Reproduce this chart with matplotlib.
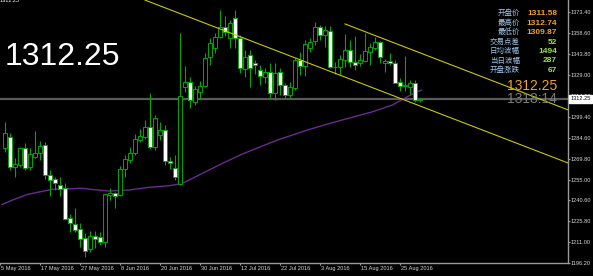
import matplotlib
matplotlib.use("Agg")
import matplotlib.pyplot as plt
import matplotlib.transforms as mtrans

# daily XAUUSD bars, 6 May 2016 .. 31 Aug 2016 (bar index 0..83)
opens = [1277.2, 1285.0, 1263.8, 1265.4, 1277.2, 1263.8, 1271.3, 1273.7, 1279.6, 1258.3,
         1255.3, 1251.2, 1248.9, 1227.7, 1223.6, 1219.9, 1213.5, 1205.7, 1215.3, 1214.2,
         1210.7, 1244.2, 1245.8, 1244.2, 1262.3, 1268.9, 1273.7, 1283.1, 1285.0, 1292.1,
         1278.4, 1286.6, 1290.2, 1268.4, 1263.0, 1251.9, 1320.9, 1324.4, 1310.2, 1317.3,
         1321.3, 1341.7, 1348.0, 1355.8, 1362.9, 1355.1, 1369.3, 1355.1, 1333.2, 1343.3,
         1337.9, 1332.7, 1327.9, 1331.5, 1316.2, 1331.5, 1322.0, 1315.0, 1319.7, 1339.8,
         1335.5, 1348.0, 1353.4, 1363.3, 1357.5, 1360.5, 1334.6, 1335.0, 1339.8, 1346.8,
         1338.6, 1337.9, 1339.3, 1345.6, 1348.5, 1352.7, 1337.4, 1339.3, 1337.9, 1324.0,
         1321.3, 1320.4, 1323.3, 1311.58]
highs = [1295.6, 1288.3, 1270.2, 1278.4, 1281.2, 1277.2, 1289.5, 1282.4, 1281.9, 1261.9,
         1257.1, 1256.7, 1252.4, 1230.7, 1234.7, 1224.1, 1217.0, 1218.9, 1218.9, 1218.2,
         1244.9, 1248.9, 1246.5, 1264.7, 1272.5, 1278.4, 1287.3, 1290.7, 1297.2, 1316.2,
         1300.8, 1296.1, 1293.7, 1270.9, 1272.5, 1358.7, 1335.5, 1327.9, 1321.3, 1325.1,
         1344.9, 1355.1, 1358.7, 1375.2, 1370.9, 1368.1, 1375.2, 1357.5, 1346.8, 1346.8,
         1339.8, 1336.2, 1333.9, 1337.9, 1337.9, 1333.9, 1323.7, 1324.4, 1341.0, 1345.6,
         1353.9, 1355.1, 1366.9, 1364.5, 1363.8, 1363.8, 1338.6, 1343.3, 1358.2, 1353.9,
         1356.8, 1344.0, 1358.7, 1352.0, 1356.3, 1353.4, 1340.3, 1344.9, 1339.8, 1326.8,
         1342.6, 1325.6, 1325.6, 1312.74]
lows = [1274.8, 1261.9, 1256.7, 1263.8, 1261.9, 1261.9, 1270.2, 1268.9, 1255.3, 1243.7,
        1247.7, 1243.4, 1226.5, 1218.1, 1218.1, 1207.5, 1200.0, 1203.8, 1206.4, 1208.7,
        1207.1, 1240.6, 1234.7, 1243.4, 1257.1, 1267.0, 1272.5, 1281.9, 1283.6, 1276.5,
        1276.0, 1283.1, 1265.4, 1262.4, 1254.8, 1251.2, 1317.3, 1305.5, 1307.9, 1311.9,
        1320.4, 1336.2, 1344.5, 1355.1, 1356.8, 1348.0, 1348.0, 1330.3, 1327.9, 1320.4,
        1329.8, 1322.1, 1323.3, 1312.6, 1311.4, 1315.0, 1312.6, 1312.6, 1318.5, 1329.1,
        1328.4, 1345.6, 1350.4, 1353.9, 1349.2, 1333.9, 1329.8, 1329.1, 1335.0, 1335.0,
        1332.7, 1335.5, 1338.6, 1336.2, 1346.8, 1337.4, 1331.5, 1336.2, 1323.3, 1318.0,
        1318.0, 1315.7, 1310.2, 1309.87]
closes = [1287.8, 1263.8, 1266.1, 1277.2, 1263.0, 1273.2, 1274.1, 1278.8, 1258.3, 1254.8,
          1252.4, 1248.4, 1226.9, 1224.5, 1219.4, 1212.8, 1204.7, 1215.1, 1213.0, 1210.7,
          1244.6, 1245.8, 1243.4, 1262.3, 1269.6, 1273.7, 1283.6, 1285.9, 1292.1, 1277.9,
          1298.5, 1290.2, 1268.4, 1266.6, 1256.7, 1314.2, 1324.4, 1311.4, 1319.0, 1321.3,
          1341.0, 1351.6, 1356.3, 1363.3, 1359.8, 1365.8, 1355.1, 1333.9, 1342.1, 1333.9,
          1336.2, 1328.4, 1331.5, 1316.2, 1330.8, 1322.0, 1315.0, 1320.4, 1339.8, 1335.5,
          1350.9, 1352.7, 1363.3, 1357.5, 1361.0, 1335.0, 1335.0, 1340.3, 1346.8, 1338.6,
          1336.2, 1339.8, 1346.1, 1348.8, 1352.3, 1341.7, 1339.3, 1337.4, 1323.7, 1321.6,
          1321.8, 1323.3, 1311.4, 1312.25]

# moving average (purple), read at a few bars
ma_idx = [-0.6, 1.5, 4.5, 9.5, 15.5, 17.5, 20.8, 24.8, 28.8, 32.8, 34.8, 35.5, 39.5, 43.5,
          47.5, 51.5, 54.5, 60.5, 64.5, 68.5, 73.5, 77.5, 79.5, 81.5, 83.3]
ma_val = [1237.4, 1240.6, 1244.6, 1248.2, 1248.9, 1248.0, 1247.0, 1247.7, 1249.6, 1250.7,
          1251.9, 1252.4, 1259.5, 1266.6, 1273.2, 1278.9, 1283.1, 1290.2, 1294.4, 1298.3,
          1303.1, 1307.9, 1311.9, 1315.7, 1318.5]

# trend lines (bar index, price)
lower_line = ([28, 113], [1382.2, 1266.3])
upper_line = ([68, 113], [1365.3, 1303.9])

tick_idx = [-1, 7, 15, 23, 31, 39, 47, 55, 63, 71, 79]
tick_labels = ["5 May 2016", "17 May 2016", "27 May 2016", "8 Jun 2016", "20 Jun 2016",
               "30 Jun 2016", "12 Jul 2016", "22 Jul 2016", "3 Aug 2016", "15 Aug 2016",
               "25 Aug 2016"]
price_ticks = [1373.40, 1358.60, 1343.80, 1329.00, 1314.20, 1299.40, 1284.60, 1269.80,
               1255.00, 1240.60, 1225.80, 1211.00, 1196.20]

last_price = 1312.25
timer_text = "1318:14"
info_labels = ["开盘价", "最高价", "最低价", "交易点差", "日均波幅", "当日波幅", "开盘涨跌"]
info_values = ["1311.58", "1312.74", "1309.87", "52", "1494", "287", "67"]

GREEN = "#00a800"
AXIS = "#9a9a9a"

plt.rcParams['font.family'] = ['Liberation Sans', 'DejaVu Sans']

fig = plt.figure(figsize=(5.93, 2.76), dpi=100, facecolor="black")
ax = fig.add_axes([0, 13 / 276, 568 / 593, 263 / 276])
ax.set_facecolor("black")

idx = list(range(len(opens)))
ax.vlines(idx, lows, highs, color=GREEN, lw=0.8, zorder=3)
bull = [c >= o for o, c in zip(opens, closes)]
ax.bar(idx, [c - o for o, c in zip(opens, closes)], bottom=opens, width=0.62,
       color=["black" if b else "white" for b in bull], edgecolor=GREEN,
       linewidth=0.7, zorder=4)

ax.plot(ma_idx, ma_val, color="#6a2a90", lw=1.0, zorder=2)
ax.plot(*lower_line, color="#c8c800", lw=0.8, zorder=5)
ax.plot(*upper_line, color="#c8c800", lw=0.8, zorder=5)
ax.axhline(last_price, color="#5a5a5a", lw=1.6, zorder=1)

ax.set_xlim(-0.54, 112.6)
ax.set_ylim(1196.0, 1382.25)

for s in ["top", "left"]:
    ax.spines[s].set_visible(False)
for s in ["right", "bottom"]:
    ax.spines[s].set_color(AXIS)
    ax.spines[s].set_linewidth(1.0)

ax.yaxis.tick_right()
ax.set_yticks(price_ticks)
ax.set_yticklabels(["%.2f" % p for p in price_ticks])
ax.set_xticks(tick_idx)
ax.set_xticklabels(tick_labels, ha="left")
ax.tick_params(axis="both", colors=AXIS, labelcolor="#d8d8d8", labelsize=4.1,
               length=1.6, width=0.8, pad=0.6)
for lab in ax.get_xticklabels():
    lab.set_transform(lab.get_transform() + mtrans.ScaledTranslation(1 / 100, 0, fig.dpi_scale_trans))

# current price box on the axis
ax.text(1.004, last_price, "%.2f" % last_price, transform=ax.get_yaxis_transform(),
        ha="left", va="center", fontsize=4.1, color="black", zorder=10, clip_on=False,
        bbox=dict(boxstyle="square,pad=0.25", fc="white", ec="white"))

# big price at left and tiny header
fig.text(5 / 593, 1 - 65 / 276, "%.2f" % last_price, fontsize=23, color="white",
         ha="left", va="baseline")
fig.text(0, 1 - 1 / 276, "%.2f" % last_price, fontsize=4, color="white", ha="left", va="center")

# info panel top right
cjk = ['Noto Sans CJK SC', 'DejaVu Sans']
for k, (lab, val) in enumerate(zip(info_labels, info_values)):
    yb = 1 - (15 + 9.5 * k) / 276
    fig.text(520 / 593, yb, lab, family=cjk, fontsize=5.4, color="#9ec3e6",
             ha="right", va="baseline")
    fig.text(557 / 593, yb, val, fontsize=6, fontweight="bold",
             color="#f0a030" if k < 3 else "#9be03c", ha="right", va="baseline")

fig.text(557 / 593, 1 - 90 / 276, "%.2f" % last_price, fontsize=10, color="#f0a030",
         ha="right", va="baseline")
fig.text(557 / 593, 1 - 103 / 276, timer_text, fontsize=10, color="#7a7a7a",
         ha="right", va="baseline")

fig.savefig("out.png", dpi=100, facecolor="black")
